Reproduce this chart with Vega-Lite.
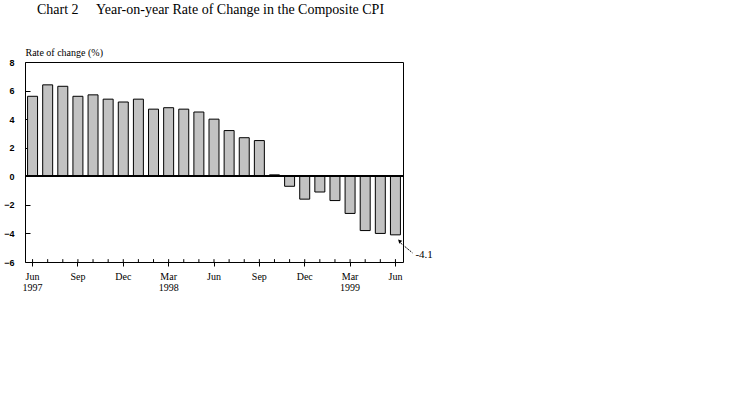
{
  "$schema": "https://vega.github.io/schema/vega-lite/v6.json",
  "width": 378,
  "height": 200,
  "autosize": {"type": "none"},
  "padding": {"left": 25, "top": 62, "right": 346, "bottom": 153},
  "background": "white",
  "config": {
    "view": {"stroke": "black", "strokeWidth": 1},
    "axis": {"domain": false, "grid": false, "tickColor": "black", "labelColor": "black", "titleColor": "black", "labelOverlap": false},
    "axisY": {"labelOverlap": false, "labelFlush": false}
  },
  "title": {
    "text": "Chart 2\u00a0\u00a0\u00a0\u00a0\u00a0Year-on-year Rate of Change in the Composite CPI",
    "anchor": "start",
    "frame": "group",
    "dx": 12,
    "offset": 30,
    "font": "Liberation Serif",
    "fontSize": 14,
    "fontWeight": "normal",
    "color": "black"
  },
  "data": {
    "values": [
      {"date": "1997-06", "value": 5.6},
      {"date": "1997-07", "value": 6.4},
      {"date": "1997-08", "value": 6.3},
      {"date": "1997-09", "value": 5.6},
      {"date": "1997-10", "value": 5.7},
      {"date": "1997-11", "value": 5.4},
      {"date": "1997-12", "value": 5.2},
      {"date": "1998-01", "value": 5.4},
      {"date": "1998-02", "value": 4.7},
      {"date": "1998-03", "value": 4.8},
      {"date": "1998-04", "value": 4.7},
      {"date": "1998-05", "value": 4.5},
      {"date": "1998-06", "value": 4.0},
      {"date": "1998-07", "value": 3.2},
      {"date": "1998-08", "value": 2.7},
      {"date": "1998-09", "value": 2.5},
      {"date": "1998-10", "value": 0.1},
      {"date": "1998-11", "value": -0.7},
      {"date": "1998-12", "value": -1.6},
      {"date": "1999-01", "value": -1.1},
      {"date": "1999-02", "value": -1.7},
      {"date": "1999-03", "value": -2.6},
      {"date": "1999-04", "value": -3.8},
      {"date": "1999-05", "value": -4.0},
      {"date": "1999-06", "value": -4.1}
    ]
  },
  "layer": [
    {
      "mark": {"type": "bar", "fill": "#c2c2c2", "stroke": "black", "strokeWidth": 1},
      "encoding": {
        "x": {
          "field": "date", "type": "ordinal",
          "scale": {"paddingInner": 0.34, "paddingOuter": 0.17},
          "axis": {
            "title": null,
            "values": ["1997-06", "1997-09", "1997-12", "1998-03", "1998-06", "1998-09", "1998-12", "1999-03", "1999-06"],
            "labelExpr": "datum.value == '1997-06' ? ['Jun', '1997'] : datum.value == '1998-03' ? ['Mar', '1998'] : datum.value == '1999-03' ? ['Mar', '1999'] : substring(datum.value, 5, 7) == '06' ? 'Jun' : substring(datum.value, 5, 7) == '09' ? 'Sep' : substring(datum.value, 5, 7) == '12' ? 'Dec' : 'Mar'",
            "labelAngle": 0,
            "labelFont": "Liberation Serif",
            "labelFontSize": 10,
            "labelLineHeight": 11,
            "labelBaseline": "top",
            "labelPadding": 5,
            "tickSize": 4,
            "tickWidth": 1
          }
        },
        "y": {
          "field": "value", "type": "quantitative",
          "scale": {"domain": [-6, 8], "nice": false},
          "axis": {
            "title": "Rate of change (%)",
            "titleAngle": 0,
            "titleAlign": "left",
            "titleBaseline": "alphabetic",
            "titleX": 0,
            "titleY": -7,
            "titleFont": "Liberation Serif",
            "titleFontSize": 10,
            "titleFontWeight": "normal",
            "values": [-6, -4, -2, 0, 2, 4, 6, 8],
            "tickCount": 8,
            "labelOverlap": false,
            "labelFont": "Liberation Sans",
            "labelFontSize": 9,
            "labelFontWeight": "bold",
            "tickSize": -5,
            "labelPadding": 16
          }
        }
      }
    },
    {
      "mark": {"type": "rule", "color": "black", "strokeWidth": 1},
      "encoding": {"y": {"datum": 0}}
    },
    {
      "mark": {"type": "rule", "color": "black", "strokeWidth": 1},
      "encoding": {
        "x": {"field": "date", "type": "ordinal"},
        "y": {"datum": -6},
        "y2": {"datum": -5.8}
      }
    },
    {
      "transform": [{"filter": "datum.date == '1999-06'"}],
      "mark": {"type": "rule", "color": "black", "strokeWidth": 1, "strokeDash": [2, 1], "xOffset": 5, "yOffset": 8, "x2Offset": 17, "y2Offset": 18},
      "encoding": {
        "x": {"field": "date", "type": "ordinal"},
        "x2": {"field": "date"},
        "y": {"field": "value", "type": "quantitative"},
        "y2": {"field": "value"}
      }
    },
    {
      "transform": [{"filter": "datum.date == '1999-06'"}],
      "mark": {"type": "point", "shape": "triangle-up", "angle": -45, "filled": true, "color": "black", "size": 18, "opacity": 1, "xOffset": 4, "yOffset": 6},
      "encoding": {
        "x": {"field": "date", "type": "ordinal"},
        "y": {"field": "value", "type": "quantitative"}
      }
    },
    {
      "transform": [{"filter": "datum.date == '1999-06'"}],
      "mark": {"type": "text", "align": "left", "baseline": "middle", "dx": 20, "dy": 20, "font": "Liberation Serif", "fontSize": 11, "color": "black"},
      "encoding": {
        "x": {"field": "date", "type": "ordinal"},
        "y": {"field": "value", "type": "quantitative"},
        "text": {"field": "value", "type": "nominal"}
      }
    }
  ]
}
